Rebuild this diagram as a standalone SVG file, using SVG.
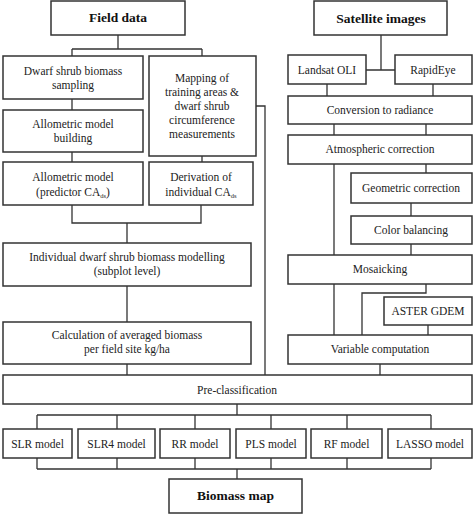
<svg xmlns="http://www.w3.org/2000/svg" width="474" height="514" viewBox="0 0 474 514">
<style>
.b{fill:#fff;stroke:#333;stroke-width:1.5}
.t{font-family:"Liberation Serif",serif;font-size:11.5px;fill:#222;text-anchor:middle}
.h{font-family:"Liberation Serif",serif;font-size:13.5px;font-weight:bold;fill:#111;text-anchor:middle}
.s{font-size:6.5px}
.c{fill:none;stroke:#333;stroke-width:1.3}
</style>
<rect width="474" height="514" fill="#fff"/>
<g id="connectors">
<path class="c" d="M118,35V49M72,49H202M72,49V56M202,49V56"/>
<path class="c" d="M72,99V110M72,152V162M202,156V162"/>
<path class="c" d="M72,205V223H201V205M127,223V243M127,286V322M127,364V375"/>
<path class="c" d="M256,106H265V375"/>
<path class="c" d="M381,35V70M366,70H395"/>
<path class="c" d="M327,84V96M433,84V96M334,124V135M426,124V135"/>
<path class="c" d="M334,164V255M426,164V173M411,203V216M411,244V255"/>
<path class="c" d="M334,284V335M426,284V293H362V335M428,325V335M380,364V375"/>
<path class="c" d="M237,404V415M37,415H431M37,415V429M117,415V429M195,415V429M271,415V429M347,415V429M431,415V429"/>
<path class="c" d="M37,458V469M117,458V469M195,458V469M271,458V469M347,458V469M431,458V469M37,469H431M237,469V479"/>
</g>
<g id="field-data"><rect class="b" x="51" y="1" width="134" height="34"/><text class="h" x="118" y="22">Field data</text></g>
<g id="sampling"><rect class="b" x="3" y="56" width="140" height="43"/><text class="t" x="73" y="74.5">Dwarf shrub biomass</text><text class="t" x="73" y="88.5">sampling</text></g>
<g id="mapping"><rect class="b" x="149" y="56" width="107" height="100"/><text class="t" x="202" y="81.5">Mapping of</text><text class="t" x="202" y="95.5">training areas &amp;</text><text class="t" x="202" y="109.5">dwarf shrub</text><text class="t" x="202" y="123.5">circumference</text><text class="t" x="202" y="137.5">measurements</text></g>
<g id="allometric-building"><rect class="b" x="3" y="110" width="140" height="42"/><text class="t" x="73" y="128">Allometric model</text><text class="t" x="73" y="142">building</text></g>
<g id="allometric-model"><rect class="b" x="3" y="162" width="140" height="43"/><text class="t" x="73" y="180.5">Allometric model</text><text class="t" x="73" y="195.5">(predictor CA<tspan class="s" dy="2.5">ds</tspan><tspan dy="-2.5">)</tspan></text></g>
<g id="derivation"><rect class="b" x="149" y="162" width="104" height="43"/><text class="t" x="201" y="180.5">Derivation of</text><text class="t" x="201" y="195.5">individual CA<tspan class="s" dy="2.5">ds</tspan></text></g>
<g id="individual"><rect class="b" x="3" y="243" width="248" height="43"/><text class="t" x="127" y="261">Individual dwarf shrub biomass modelling</text><text class="t" x="127" y="275">(subplot level)</text></g>
<g id="calculation"><rect class="b" x="3" y="322" width="248" height="42"/><text class="t" x="127" y="339">Calculation of averaged biomass</text><text class="t" x="127" y="353">per field site kg/ha</text></g>
<g id="satellite"><rect class="b" x="314" y="1" width="133" height="34"/><text class="h" x="381" y="23">Satellite images</text></g>
<g id="landsat"><rect class="b" x="288" y="55" width="78" height="29"/><text class="t" x="327" y="74">Landsat OLI</text></g>
<g id="rapideye"><rect class="b" x="395" y="55" width="77" height="29"/><text class="t" x="433" y="74">RapidEye</text></g>
<g id="radiance"><rect class="b" x="288" y="96" width="184" height="28"/><text class="t" x="380" y="114">Conversion to radiance</text></g>
<g id="atmospheric"><rect class="b" x="288" y="135" width="184" height="29"/><text class="t" x="380" y="153">Atmospheric correction</text></g>
<g id="geometric"><rect class="b" x="351" y="173" width="121" height="30"/><text class="t" x="411" y="192">Geometric correction</text></g>
<g id="color"><rect class="b" x="351" y="216" width="121" height="28"/><text class="t" x="411" y="234">Color balancing</text></g>
<g id="mosaicking"><rect class="b" x="288" y="255" width="184" height="29"/><text class="t" x="380" y="273">Mosaicking</text></g>
<g id="aster"><rect class="b" x="384" y="297" width="88" height="28"/><text class="t" x="428" y="315">ASTER GDEM</text></g>
<g id="variable"><rect class="b" x="288" y="335" width="184" height="29"/><text class="t" x="380" y="353">Variable computation</text></g>
<g id="preclass"><rect class="b" x="3" y="375" width="469" height="29"/><text class="t" x="237" y="394">Pre-classification</text></g>
<g id="slr"><rect class="b" x="3" y="429" width="69" height="29"/><text class="t" x="37.5" y="447.5">SLR model</text></g>
<g id="slr4"><rect class="b" x="78" y="429" width="77" height="29"/><text class="t" x="116.5" y="447.5">SLR4 model</text></g>
<g id="rr"><rect class="b" x="160" y="429" width="70" height="29"/><text class="t" x="195" y="447.5">RR model</text></g>
<g id="pls"><rect class="b" x="236" y="429" width="70" height="29"/><text class="t" x="271" y="447.5">PLS model</text></g>
<g id="rf"><rect class="b" x="311" y="429" width="71" height="29"/><text class="t" x="346.5" y="447.5">RF model</text></g>
<g id="lasso"><rect class="b" x="388" y="429" width="84" height="29"/><text class="t" x="430" y="447.5">LASSO model</text></g>
<g id="biomass-map"><rect class="b" x="169" y="479" width="133" height="34"/><text class="h" x="235.5" y="500">Biomass map</text></g>
</svg>
